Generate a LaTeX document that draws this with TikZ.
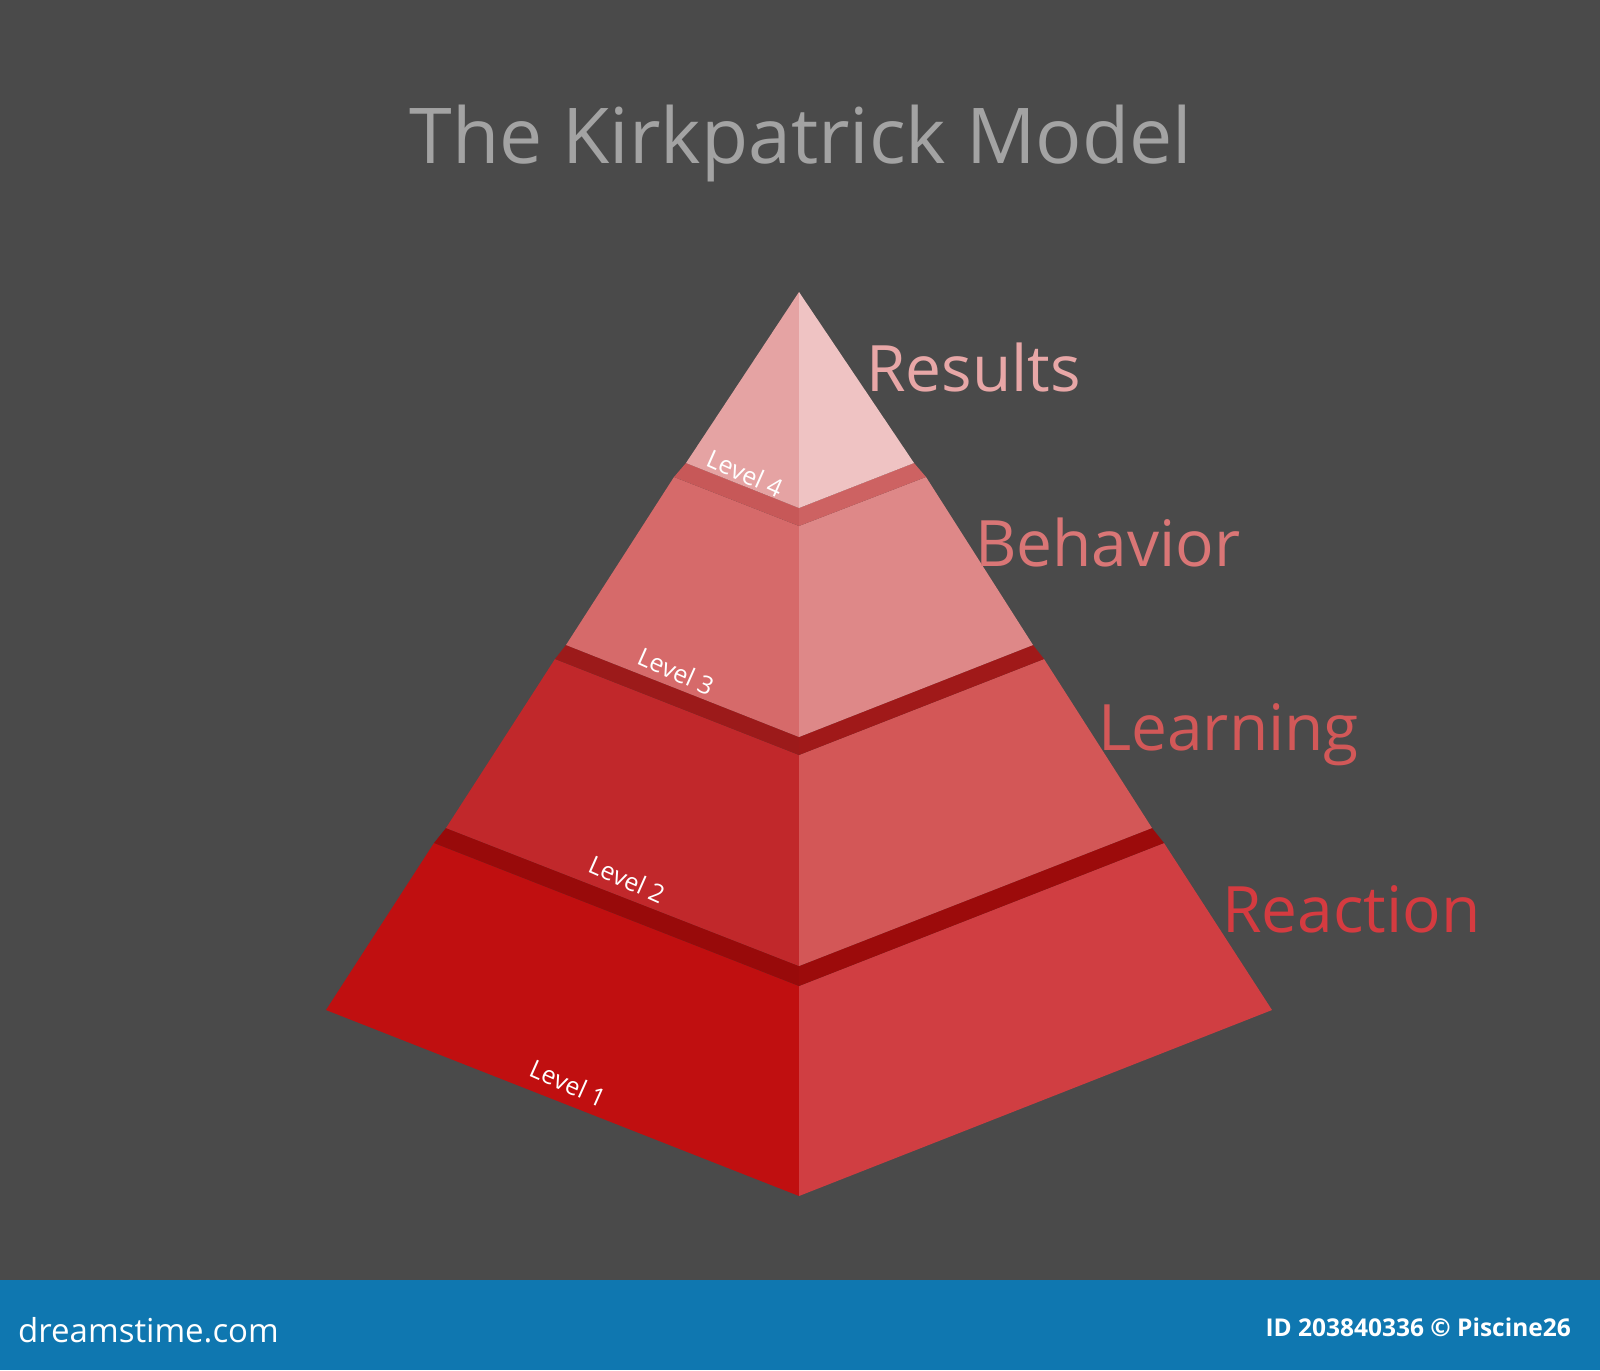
\documentclass[tikz,border=0pt]{standalone}
\usepackage{fontspec}
\setmainfont{Open Sans}
\definecolor{bg}{HTML}{4A4A4A}
\definecolor{barblue}{HTML}{0F77B0}
\definecolor{titlegray}{HTML}{A3A3A3}
\definecolor{fourL}{HTML}{E5A3A3}
\definecolor{fourR}{HTML}{EFC3C3}
\definecolor{ledgeThreeL}{HTML}{C75858}
\definecolor{ledgeThreeR}{HTML}{CD6262}
\definecolor{threeL}{HTML}{D66A6A}
\definecolor{threeR}{HTML}{DE8888}
\definecolor{ledgeTwoL}{HTML}{9C1A1A}
\definecolor{ledgeTwoR}{HTML}{A01919}
\definecolor{twoL}{HTML}{C1282B}
\definecolor{twoR}{HTML}{D35757}
\definecolor{ledgeOneL}{HTML}{980A0A}
\definecolor{ledgeOneR}{HTML}{9C0B0B}
\definecolor{oneL}{HTML}{C00F10}
\definecolor{oneR}{HTML}{D03E42}
\definecolor{txtResults}{HTML}{E8A7A7}
\definecolor{txtBehavior}{HTML}{DA7676}
\definecolor{txtLearning}{HTML}{D25858}
\definecolor{txtReaction}{HTML}{D53B40}
\tikzset{
  levellabel/.style={text=white,font=\fontsize{25}{28}\selectfont,rotate=-24,inner sep=0pt},
  sidelabel/.style={anchor=base west,inner sep=0pt,font=\fontsize{64}{70}\selectfont},
}
\begin{document}
\begin{tikzpicture}[x=1pt,y=-1pt]
\useasboundingbox (0,0) rectangle (1600,1370);
\fill[bg] (0,0) rectangle (1600,1370);
\fill[barblue] (0,1280) rectangle (1600,1370);

% coordinates
\coordinate (A4) at (799,292);
\coordinate (B4L) at (686,463); \coordinate (B4C) at (799,508); \coordinate (B4R) at (914,463);
\coordinate (T3L) at (674,477); \coordinate (T3C) at (799,526); \coordinate (T3R) at (926,477);
\coordinate (B3L) at (566,645); \coordinate (B3C) at (799,737); \coordinate (B3R) at (1033,645);
\coordinate (T2L) at (555,659); \coordinate (T2C) at (799,755); \coordinate (T2R) at (1044,659);
\coordinate (B2L) at (446,828); \coordinate (B2C) at (799,966); \coordinate (B2R) at (1152,828);
\coordinate (T1L) at (434,843); \coordinate (T1C) at (799,986); \coordinate (T1R) at (1164,843);
\coordinate (B1L) at (326,1010); \coordinate (B1C) at (799,1196); \coordinate (B1R) at (1272,1010);

% tier 1
\fill[oneL] (T1L) -- (T1C) -- (B1C) -- (B1L) -- cycle;
\fill[oneR] (T1C) -- (T1R) -- (B1R) -- (B1C) -- cycle;
\fill[ledgeOneL] (T1L) -- (T1C) -- (B2C) -- (B2L) -- cycle;
\fill[ledgeOneR] (T1C) -- (T1R) -- (B2R) -- (B2C) -- cycle;
% tier 2
\fill[twoL] (T2L) -- (T2C) -- (B2C) -- (B2L) -- cycle;
\fill[twoR] (T2C) -- (T2R) -- (B2R) -- (B2C) -- cycle;
\fill[ledgeTwoL] (T2L) -- (T2C) -- (B3C) -- (B3L) -- cycle;
\fill[ledgeTwoR] (T2C) -- (T2R) -- (B3R) -- (B3C) -- cycle;
% tier 3
\fill[threeL] (T3L) -- (T3C) -- (B3C) -- (B3L) -- cycle;
\fill[threeR] (T3C) -- (T3R) -- (B3R) -- (B3C) -- cycle;
\fill[ledgeThreeL] (T3L) -- (T3C) -- (B4C) -- (B4L) -- cycle;
\fill[ledgeThreeR] (T3C) -- (T3R) -- (B4R) -- (B4C) -- cycle;
% tier 4
\fill[fourL] (A4) -- (B4C) -- (B4L) -- cycle;
\fill[fourR] (A4) -- (B4R) -- (B4C) -- cycle;

% level labels
\node[levellabel] (lv4) at (745,473) {Level 4};
\node[levellabel] (lv3) at (676,671) {Level 3};
\node[levellabel] (lv2) at (627,879) {Level 2};
\node[levellabel] (lv1) at (568,1083) {Level 1};

% title
\node[anchor=base,inner sep=0pt,text=titlegray,font=\fontsize{77}{90}\selectfont] (title) at (801,164) {The Kirkpatrick Model};

% side labels
\node[sidelabel,text=txtResults] (results) at (866,391) {Results};
\node[sidelabel,text=txtBehavior] (behavior) at (975,566) {Behavior};
\node[sidelabel,text=txtLearning] (learning) at (1098,750) {Learning};
\node[sidelabel,text=txtReaction] (reaction) at (1222,932) {Reaction};

% bottom bar texts
\node[anchor=base west,inner sep=0pt,text=white,font=\fontsize{33}{36}\selectfont] (brand) at (18,1342) {dreamstime.com};
\node[anchor=base east,inner sep=0pt,text=white,font=\bfseries\fontsize{24.5}{27}\selectfont] (imgid) at (1571,1336) {ID 203840336 © Piscine26};
\end{tikzpicture}
\end{document}
